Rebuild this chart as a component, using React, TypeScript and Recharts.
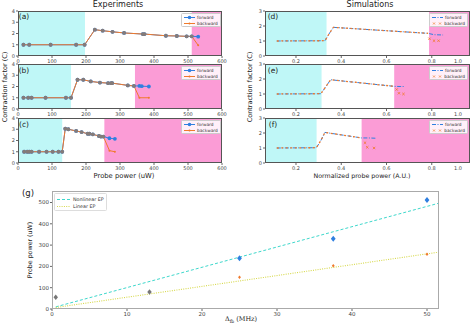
import React from "react";
import { ComposedChart, Line, XAxis, YAxis, ReferenceArea, Scatter } from "recharts";

// ---- experiments (uW vs C) ----
const aX = [16, 33, 96, 171, 196, 226, 249, 278, 312, 367, 372, 435, 467, 496, 511];
const aY = [1, 1, 1, 1, 1, 2.34, 2.25, 2.15, 2.05, 1.95, 1.95, 1.8, 1.78, 1.75, 1.75];
const aFwdX = [530];
const aFwdY = [1.72];
const aBwdX = [530];
const aBwdY = [0.95];

const bX = [16, 30, 40, 81, 141, 156, 175, 192, 214, 241, 265, 274, 277, 323, 341];
const bY = [1, 1, 1, 1, 1, 1, 2.6, 2.6, 2.45, 2.35, 2.3, 2.3, 2.3, 2.1, 2.05];
const bFwdX = [357, 364, 385];
const bFwdY = [2.05, 2.03, 2.0];
const bBwdX = [357, 385];
const bBwdY = [1.0, 1.0];

const cX = [18, 27, 33, 40, 62, 84, 102, 119, 130, 139, 148, 171, 187, 205, 210, 220, 238, 244, 251];
const cY = [1, 1, 1, 1, 1, 1, 1, 1, 1, 3.05, 3.0, 2.85, 2.75, 2.6, 2.6, 2.55, 2.4, 2.35, 2.35];
const cFwdX = [269, 285];
const cFwdY = [2.2, 2.15];
const cBwdX = [269, 285];
const cBwdY = [1.1, 1.0];

// stable (cyan) and bistable (pink) ranges
const expCyan = [197, 156, 130];
const expPink = [511, 344, 254];

// ---- simulations (normalized power vs C) ----
const dX = [0.115, 0.328, 0.345, 0.365, 0.784];
const dY = [1.0, 1.02, 1.45, 1.91, 1.51];
const dFwdX = [0.81, 0.85];
const dFwdY = [1.42, 1.4];
const dBwdX = [0.79, 0.81, 0.83];
const dBwdY = [1.15, 1.02, 1.02];

const eX = [0.115, 0.31, 0.33, 0.353, 0.634];
const eY = [1.0, 1.02, 1.45, 1.95, 1.51];
const eFwdX = [0.66, 0.68];
const eFwdY = [1.5, 1.5];
const eBwdX = [0.645, 0.655, 0.675];
const eBwdY = [1.3, 1.05, 1.0];

const fX = [0.115, 0.29, 0.31, 0.328, 0.49];
const fY = [1.0, 1.02, 1.5, 2.04, 1.67];
const fFwdX = [0.52, 0.556];
const fFwdY = [1.67, 1.65];
const fBwdX = [0.505, 0.515, 0.545];
const fBwdY = [1.35, 1.05, 1.0];

const simCyan = [0.335, 0.313, 0.291];
const simPink = [0.788, 0.634, 0.49];

// ---- (g) probe power vs detuning ----
const gGrayX = [0.5, 13];
const gGrayY = [55, 80];
const gFwdX = [25, 37.5, 50];
const gFwdY = [238, 330, 512];
const gBwdX = [25, 37.5, 50];
const gBwdY = [149, 203, 257];
const nonlinX = [0.5, 51.6];
const nonlinY = [10, 497];
const linX = [0.5, 51.6];
const linY = [7, 267];

const expTicksX = [0, 100, 200, 300, 400, 500, 600];
const expTicksY = [0, 1, 2, 3, 4];
const simTicksX = [0.2, 0.4, 0.6, 0.8, 1.0];
const simTicksY = [0, 1, 2, 3];
const gTicksX = [0, 10, 20, 30, 40, 50];
const gTicksY = [0, 100, 200, 300, 400, 500];

const BLUE = "#2f7fe0";
const ORANGE = "#f07a2c";
const GRAY = "#857b78";
const CYAN = "#bff7f7";
const PINK = "#fb9cd6";
const FONT = "'DejaVu Sans', sans-serif";

const pts = (xs: number[], ys: number[]) => xs.map((x, i) => ({ x, y: ys[i] }));

type Rect = { x: number; y: number; w: number; h: number };
// margins outside the axes; the axes themselves take XH / YW
const M = { top: 3, right: 6, bottom: 2, left: 2 };
const XH = 12;
const YW = 14;

function Plot(props: {
  r: Rect;
  xDomain: number[];
  yDomain: number[];
  xTicks: number[];
  yTicks: number[];
  xFmt?: (v: number) => string;
  xTick?: any;
  fs?: number;
  border?: string;
  children?: React.ReactNode;
}) {
  const { r, fs = 5 } = props;
  const tick = { fontSize: fs, fill: "#444", fontFamily: FONT };
  const offL = M.left + YW;
  return (
    <div style={{ position: "absolute", left: r.x - offL, top: r.y - M.top }}>
      <ComposedChart width={r.w + offL + M.right} height={r.h + M.top + M.bottom + XH} margin={M}>
        <XAxis
          type="number"
          dataKey="x"
          domain={props.xDomain}
          ticks={props.xTicks}
          interval={0}
          allowDataOverflow
          height={XH}
          axisLine={false}
          tickSize={2}
          tickMargin={1}
          tickLine={{ stroke: "#666" }}
          tick={props.xTick || tick}
          tickFormatter={props.xFmt}
        />
        <YAxis
          type="number"
          dataKey="y"
          domain={props.yDomain}
          ticks={props.yTicks}
          interval={0}
          allowDataOverflow
          width={YW}
          axisLine={false}
          tickSize={2}
          tickMargin={1}
          tickLine={{ stroke: "#666" }}
          tick={tick}
        />
        {props.children}
      </ComposedChart>
      <div
        style={{
          position: "absolute",
          left: offL,
          top: M.top,
          width: r.w,
          height: r.h,
          boxSizing: "border-box",
          border: `1px solid ${props.border || "#555"}`,
          pointerEvents: "none",
        }}
      />
    </div>
  );
}

// x tick for the simulation panels: the last label (1.0) is pulled in at the figure edge
function simTick(p: any) {
  const v = p.payload.value;
  const last = v >= 0.999;
  const x = last ? Math.min(p.x + 4, 213) : p.x;
  return (
    <text
      x={x}
      y={p.y}
      dy="0.71em"
      textAnchor={last ? "end" : "middle"}
      fontSize={5}
      fill="#444"
      fontFamily="DejaVu Sans, sans-serif"
    >
      {v.toFixed(1)}
    </text>
  );
}

function expDot(nShared: number, fwd: boolean) {
  return (p: any) => {
    const { cx, cy, index } = p;
    if (cx == null || cy == null) return <g key={index} />;
    if (fwd) return <circle key={index} cx={cx} cy={cy} r={1.9} fill={BLUE} />;
    if (index < nShared) return <circle key={index} cx={cx} cy={cy} r={1.9} fill={GRAY} />;
    return <circle key={index} cx={cx} cy={cy} r={1} fill={ORANGE} />;
  };
}

function ExpPanel(props: {
  top: number;
  i: number;
  sx: number[];
  sy: number[];
  fx: number[];
  fy: number[];
  bx: number[];
  by: number[];
}) {
  const shared = pts(props.sx, props.sy);
  const fwd = [...shared, ...pts(props.fx, props.fy)];
  const bwd = [...shared, ...pts(props.bx, props.by)];
  return (
    <Plot r={{ x: 18, y: props.top, w: 204, h: 45 }} xDomain={[0, 600]} yDomain={[0, 4]} xTicks={expTicksX} yTicks={expTicksY}>
      <ReferenceArea x1={0} x2={expCyan[props.i]} y1={0} y2={4} fill={CYAN} fillOpacity={1} stroke="none" />
      <ReferenceArea x1={expPink[props.i]} x2={600} y1={0} y2={4} fill={PINK} fillOpacity={1} stroke="none" />
      <Line data={fwd} dataKey="y" stroke={BLUE} strokeWidth={1} dot={expDot(shared.length, true)} isAnimationActive={false} />
      <Line data={bwd} dataKey="y" stroke={ORANGE} strokeWidth={1} dot={expDot(shared.length, false)} isAnimationActive={false} />
    </Plot>
  );
}

function simDot(nShared: number) {
  return (p: any) => {
    const { cx, cy, index } = p;
    if (cx == null || cy == null || index < nShared) return <g key={index} />;
    return (
      <g key={index} stroke={ORANGE} strokeWidth={0.8}>
        <line x1={cx - 1.2} y1={cy - 1.2} x2={cx + 1.2} y2={cy + 1.2} />
        <line x1={cx - 1.2} y1={cy + 1.2} x2={cx + 1.2} y2={cy - 1.2} />
      </g>
    );
  };
}

function SimPanel(props: {
  top: number;
  i: number;
  sx: number[];
  sy: number[];
  fx: number[];
  fy: number[];
  bx: number[];
  by: number[];
}) {
  const shared = pts(props.sx, props.sy);
  const fwd = [...shared, ...pts(props.fx, props.fy)];
  const bwd = [...shared, ...pts(props.bx, props.by)];
  return (
    <Plot
      r={{ x: 265, y: props.top, w: 205, h: 45 }}
      xDomain={[0.063, 0.969]}
      yDomain={[0, 3]}
      xTicks={simTicksX}
      yTicks={simTicksY}
      xTick={simTick}
    >
      <ReferenceArea x1={0.063} x2={simCyan[props.i]} y1={0} y2={3} fill={CYAN} fillOpacity={1} stroke="none" />
      <ReferenceArea x1={simPink[props.i]} x2={0.969} y1={0} y2={3} fill={PINK} fillOpacity={1} stroke="none" />
      <Line data={fwd} dataKey="y" stroke={BLUE} strokeWidth={1} strokeDasharray="4 1.5 1 1.5" dot={false} isAnimationActive={false} />
      <Line
        data={bwd}
        dataKey="y"
        stroke={ORANGE}
        strokeOpacity={0}
        dot={simDot(shared.length)}
        isAnimationActive={false}
      />
      <Line data={shared} dataKey="y" stroke={ORANGE} strokeWidth={1.3} strokeDasharray="2 2.5" dot={false} isAnimationActive={false} />
    </Plot>
  );
}

function Txt(props: { x: number; y: number; size: number; rot?: boolean; serif?: boolean; children: React.ReactNode }) {
  return (
    <div
      style={{
        position: "absolute",
        left: props.x,
        top: props.y,
        transform: `translate(-50%, -50%)${props.rot ? " rotate(-90deg)" : ""}`,
        whiteSpace: "nowrap",
        fontSize: props.size,
        lineHeight: 1,
        fontFamily: props.serif ? "'DejaVu Serif', serif" : FONT,
        color: "#222",
      }}
    >
      {props.children}
    </div>
  );
}

function Legend(props: { x: number; y: number; w: number; sim: boolean }) {
  const rows = [
    { label: "forward", color: BLUE, fwd: true },
    { label: "backward", color: ORANGE, fwd: false },
  ];
  return (
    <div
      style={{
        position: "absolute",
        left: props.x,
        top: props.y,
        width: props.w,
        height: 14.5,
        boxSizing: "border-box",
        background: "rgba(255,255,255,0.85)",
        border: "0.6px solid #ccc",
        borderRadius: 1.5,
        fontFamily: FONT,
        fontSize: 4.3,
        color: "#333",
        padding: "1.5px 2px",
      }}
    >
      {rows.map((r) => (
        <div key={r.label} style={{ display: "flex", alignItems: "center", height: 5.8 }}>
          <svg width={11} height={5} style={{ marginRight: 2 }}>
            {props.sim ? (
              r.fwd ? (
                <line x1={0} y1={2.5} x2={11} y2={2.5} stroke={r.color} strokeWidth={1} strokeDasharray="4 1.5 1 1.5" />
              ) : (
                <g stroke={r.color} strokeWidth={0.7}>
                  <line x1={1} y1={1.5} x2={3} y2={3.5} />
                  <line x1={1} y1={3.5} x2={3} y2={1.5} />
                  <line x1={7} y1={1.5} x2={9} y2={3.5} />
                  <line x1={7} y1={3.5} x2={9} y2={1.5} />
                </g>
              )
            ) : (
              <g>
                <line x1={0} y1={2.5} x2={11} y2={2.5} stroke={r.color} strokeWidth={1} />
                <circle cx={5.5} cy={2.5} r={r.fwd ? 1.8 : 1} fill={r.color} />
              </g>
            )}
          </svg>
          <span>{r.label}</span>
        </div>
      ))}
    </div>
  );
}

function diamond(color: string, s: number) {
  return (p: any) => (
    <polygon
      points={`${p.cx},${p.cy - s} ${p.cx + s * 0.8},${p.cy} ${p.cx},${p.cy + s} ${p.cx - s * 0.8},${p.cy}`}
      fill={color}
    />
  );
}

function PanelG() {
  return (
    <Plot r={{ x: 52, y: 191, w: 387, h: 118 }} xDomain={[0, 51.6]} yDomain={[0, 554]} xTicks={gTicksX} yTicks={gTicksY} fs={5.5} border="#aaa">
      <Line data={pts(nonlinX, nonlinY)} dataKey="y" stroke="#3fd8cc" strokeWidth={1} strokeDasharray="3 2" dot={false} isAnimationActive={false} />
      <Line data={pts(linX, linY)} dataKey="y" stroke="#d6d84a" strokeWidth={1.1} strokeDasharray="1 1.3" dot={false} isAnimationActive={false} />
      <Scatter data={pts(gGrayX, gGrayY)} dataKey="y" shape={diamond("#777", 2.8)} isAnimationActive={false} />
      <Scatter data={pts(gFwdX, gFwdY)} dataKey="y" shape={diamond(BLUE, 3)} isAnimationActive={false} />
      <Scatter data={pts(gBwdX, gBwdY)} dataKey="y" shape={diamond(ORANGE, 1.8)} isAnimationActive={false} />
    </Plot>
  );
}

export default function App() {
  return (
    <div style={{ position: "absolute", left: 0, top: 0, width: 474, height: 326, overflow: "hidden", background: "#fff" }}>
      <ExpPanel top={11} i={0} sx={aX} sy={aY} fx={aFwdX} fy={aFwdY} bx={aBwdX} by={aBwdY} />
      <ExpPanel top={64} i={1} sx={bX} sy={bY} fx={bFwdX} fy={bFwdY} bx={bBwdX} by={bBwdY} />
      <ExpPanel top={118} i={2} sx={cX} sy={cY} fx={cFwdX} fy={cFwdY} bx={cBwdX} by={cBwdY} />
      <SimPanel top={11} i={0} sx={dX} sy={dY} fx={dFwdX} fy={dFwdY} bx={dBwdX} by={dBwdY} />
      <SimPanel top={64} i={1} sx={eX} sy={eY} fx={eFwdX} fy={eFwdY} bx={eBwdX} by={eBwdY} />
      <SimPanel top={118} i={2} sx={fX} sy={fY} fx={fFwdX} fy={fFwdY} bx={fBwdX} by={fBwdY} />
      <PanelG />

      {[11, 64, 118].map((t) => (
        <Legend key={"l" + t} x={181} y={t + 1.5} w={40} sim={false} />
      ))}
      {[11, 64, 118].map((t) => (
        <Legend key={"r" + t} x={429} y={t + 1.5} w={39} sim={true} />
      ))}

      <Txt x={118} y={5} size={8}>Experiments</Txt>
      <Txt x={370} y={5} size={8}>Simulations</Txt>
      {["(a)", "(b)", "(c)"].map((s, i) => (
        <Txt key={s} x={24} y={[17, 71, 125][i]} size={7.5}>{s}</Txt>
      ))}
      {["(d)", "(e)", "(f)"].map((s, i) => (
        <Txt key={s} x={273} y={[17, 71, 125][i]} size={7.5}>{s}</Txt>
      ))}
      <Txt x={5} y={87} size={6.5} rot>Contraction factor (C)</Txt>
      <Txt x={250} y={87} size={6.5} rot>Contraction factor (C)</Txt>
      <Txt x={124} y={176} size={6.8}>Probe power (uW)</Txt>
      <Txt x={362} y={176} size={6.3}>Normalized probe power (A.U.)</Txt>

      <Txt x={28} y={193} size={8.5}>(g)</Txt>
      <Txt x={30} y={250} size={6.3} rot>Probe power (uW)</Txt>
      <Txt x={241} y={320} size={6.5} serif>
        Δ<sub style={{ fontSize: 4.5 }}>fb</sub> (MHz)
      </Txt>

      <div
        style={{
          position: "absolute",
          left: 54,
          top: 192.5,
          width: 53,
          height: 18,
          boxSizing: "border-box",
          background: "rgba(255,255,255,0.85)",
          border: "0.6px solid #ddd",
          borderRadius: 1.5,
          fontFamily: FONT,
          fontSize: 4.8,
          color: "#333",
          padding: "2px 2px",
        }}
      >
        <div style={{ display: "flex", alignItems: "center", height: 7 }}>
          <svg width={13} height={5} style={{ marginRight: 3 }}>
            <line x1={0} y1={2.5} x2={13} y2={2.5} stroke="#3fd8cc" strokeWidth={1} strokeDasharray="3 2" />
          </svg>
          <span>Nonlinear EP</span>
        </div>
        <div style={{ display: "flex", alignItems: "center", height: 7 }}>
          <svg width={13} height={5} style={{ marginRight: 3 }}>
            <line x1={0} y1={2.5} x2={13} y2={2.5} stroke="#d6d84a" strokeWidth={1.1} strokeDasharray="1 1.3" />
          </svg>
          <span>Linear EP</span>
        </div>
      </div>
    </div>
  );
}
